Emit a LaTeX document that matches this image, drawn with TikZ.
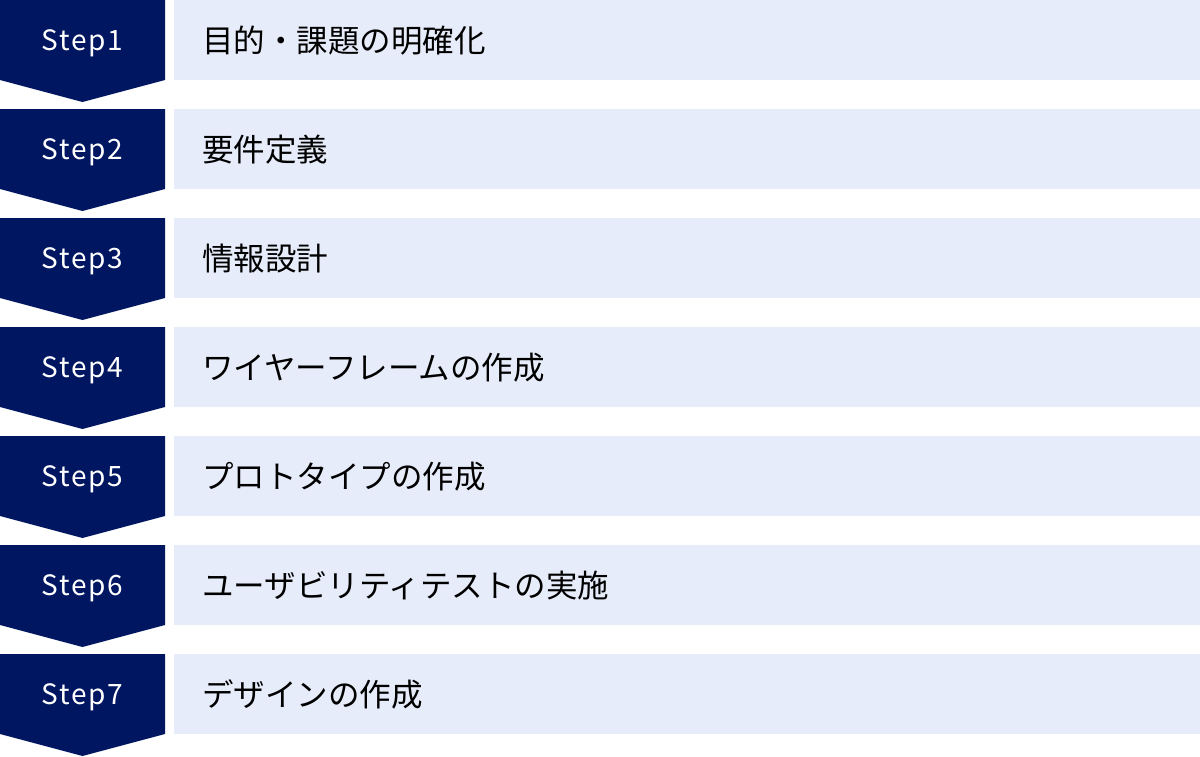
\documentclass[tikz,border=0pt]{standalone}
\usepackage{fontspec}
\setmainfont{Noto Sans CJK JP}
\newfontfamily\stepfont[LetterSpace=6]{Noto Sans CJK JP}
\definecolor{navy}{HTML}{001661}
\definecolor{pale}{HTML}{E6ECF9}
\begin{document}
\begin{tikzpicture}[x=1pt,y=-1pt,
  stepshape/.style={fill=navy,draw=none},
  barbox/.style={fill=pale,draw=none},
  steplabel/.style={text=white,font=\stepfont\fontsize{28}{30}\selectfont,inner sep=0pt},
  barlabel/.style={text=black,font=\fontsize{31.5}{34}\selectfont,anchor=west,inner sep=0pt}]
\useasboundingbox (0,0) rectangle (1200,756);
\foreach \i/\t in {1/目的・課題の明確化,2/要件定義,3/情報設計,4/ワイヤーフレームの作成,5/プロトタイプの作成,6/ユーザビリティテストの実施,7/デザインの作成}{
  \pgfmathsetmacro{\top}{109*(\i-1)}
  \fill[stepshape] (0,\top) -- (165,\top) -- (165,\top+80) -- (82.5,\top+102) -- (0,\top+80) -- cycle;
  \fill[barbox] (174,\top) rectangle (1200,\top+80);
  \node[steplabel] (s\i) at (82.5,\top+43.5) {Step\i};
  \node[barlabel] (b\i) at (202,\top+40.5) {\t};
}
\end{tikzpicture}
\end{document}
